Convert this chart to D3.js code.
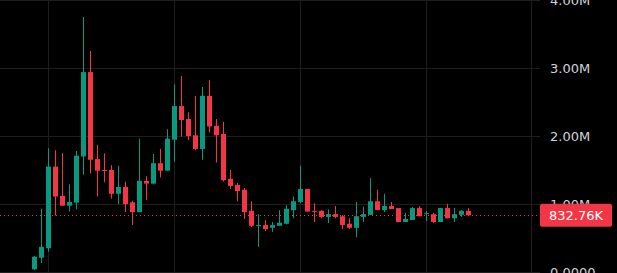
<!DOCTYPE html>
<html>
<head>
<meta charset="utf-8">
<script src="https://cdn.jsdelivr.net/npm/d3@7"></script>
<style>
  html, body { margin: 0; padding: 0; background: #000; }
  svg { display: block; }
</style>
</head>
<body>
<div id="chart"></div>
<script>
// Candle values, in millions
const opens  = [0.04, 0.21, 0.35, 1.55, 1.12, 0.975, 1.02, 1.70, 2.94, 1.66, 1.50, 1.50, 1.15, 1.25, 1.025, 0.88,
                1.34, 1.30, 1.60, 1.49, 1.945, 2.44, 2.25, 2.01, 1.81, 2.59, 2.15, 2.03, 1.37, 1.28, 1.21, 0.90,
                0.685, 0.69, 0.65, 0.68, 0.71, 0.91, 1.03, 1.22, 0.90, 0.90, 0.81, 0.85, 0.82, 0.71, 0.65, 0.81,
                0.84, 1.04, 0.91, 0.97, 0.94, 0.735, 0.765, 0.94, 0.86, 0.85, 0.735, 0.94, 0.79, 0.84, 0.90];
const highs  = [0.235, 0.93, 1.82, 1.79, 1.75, 1.29, 1.78, 3.75, 3.25, 1.87, 1.745, 1.57, 1.56, 1.33, 1.05, 1.96,
                1.41, 1.735, 1.81, 2.10, 2.76, 2.88, 2.35, 2.59, 2.72, 2.82, 2.25, 2.21, 1.50, 1.31, 1.235, 1.04,
                0.85, 0.76, 0.735, 0.91, 0.985, 1.11, 1.56, 1.22, 1.01, 0.91, 0.92, 0.97, 0.84, 0.79, 1.03, 0.96,
                1.38, 1.21, 1.15, 1.03, 0.94, 0.87, 0.955, 0.97, 0.90, 0.87, 0.94, 1.00, 0.94, 0.91, 0.94];
const lows   = [0.03, 0.13, 0.30, 0.83, 0.97, 0.89, 0.92, 1.43, 1.45, 1.11, 1.32, 1.08, 1.00, 0.88, 0.69, 0.88,
                1.06, 1.29, 1.39, 1.49, 1.62, 1.99, 1.94, 1.79, 1.65, 2.05, 1.61, 1.33, 1.22, 1.04, 0.78, 0.66,
                0.37, 0.60, 0.59, 0.68, 0.70, 0.79, 1.01, 0.88, 0.735, 0.79, 0.72, 0.79, 0.63, 0.63, 0.51, 0.735,
                0.84, 0.91, 0.88, 0.925, 0.73, 0.735, 0.765, 0.82, 0.75, 0.72, 0.735, 0.79, 0.735, 0.81, 0.83];
const closes = [0.225, 0.37, 1.55, 1.11, 0.975, 1.03, 1.71, 2.94, 1.65, 1.49, 1.49, 1.15, 1.25, 1.00, 0.88, 1.34,
                1.30, 1.60, 1.49, 1.96, 2.44, 2.235, 2.00, 1.81, 2.59, 2.14, 2.01, 1.35, 1.265, 1.19, 0.88, 0.68,
                0.69, 0.63, 0.69, 0.725, 0.93, 1.04, 1.22, 0.89, 0.89, 0.81, 0.85, 0.81, 0.69, 0.65, 0.82, 0.85,
                1.04, 0.91, 0.97, 0.925, 0.735, 0.78, 0.94, 0.82, 0.865, 0.735, 0.94, 0.79, 0.85, 0.90, 0.83276];

const priceTicks = [0, 1, 2, 3, 4];
const priceTickLabels = ["0.0000", "1.00M", "2.00M", "3.00M", "4.00M"];
const timeGridIdx = [2, 20, 38, 56, 71];
const lastPriceLabel = "832.76K";

const width = 617;
const height = 273;
const paneRight = 540;
const up = "#089981";
const down = "#f23645";

const svg = d3.select("#chart")
  .append("svg")
  .attr("width", width)
  .attr("height", height)
  .style("background", "#000");

const x = d3.scaleLinear().domain([0, 62]).range([34.3, 468.3]);
const y = d3.scaleLinear().domain([0, 4]).range([272, 0]);

// grid
svg.append("g")
  .selectAll("line")
  .data(priceTicks)
  .join("line")
  .attr("x1", 0).attr("x2", paneRight)
  .attr("y1", d => Math.round(y(d)) + 0.5)
  .attr("y2", d => Math.round(y(d)) + 0.5)
  .attr("stroke", "#1e1e1e");

svg.append("g")
  .selectAll("line")
  .data(timeGridIdx)
  .join("line")
  .attr("x1", d => Math.round(x(d)) + 0.5)
  .attr("x2", d => Math.round(x(d)) + 0.5)
  .attr("y1", 0).attr("y2", height)
  .attr("stroke", "#1e1e1e");

// candles
const candles = svg.append("g")
  .selectAll("g")
  .data(d3.range(opens.length))
  .join("g")
  .attr("fill", i => closes[i] >= opens[i] ? up : down)
  .attr("stroke", i => closes[i] >= opens[i] ? up : down);

candles.append("line")
  .attr("x1", i => Math.round(x(i)) + 0.5)
  .attr("x2", i => Math.round(x(i)) + 0.5)
  .attr("y1", i => y(highs[i]))
  .attr("y2", i => y(lows[i]))
  .attr("stroke-width", 1);

candles.append("rect")
  .attr("x", i => Math.round(x(i)) - 2)
  .attr("width", 5)
  .attr("y", i => y(Math.max(opens[i], closes[i])))
  .attr("height", i => Math.max(1, Math.abs(y(opens[i]) - y(closes[i]))))
  .attr("stroke", "none");

// last price line
const lastY = y(closes[closes.length - 1]);
svg.append("line")
  .attr("x1", 0).attr("x2", paneRight)
  .attr("y1", Math.round(lastY) + 0.5).attr("y2", Math.round(lastY) + 0.5)
  .attr("stroke", down)
  .attr("stroke-dasharray", "1,3");

// price axis labels
svg.append("g")
  .selectAll("text")
  .data(priceTicks)
  .join("text")
  .attr("x", 550)
  .attr("y", d => y(d))
  .attr("dy", "0.36em")
  .attr("fill", "#d1d4dc")
  .style("font", "13px 'DejaVu Sans', sans-serif")
  .text((d, i) => priceTickLabels[i]);

// last price tag
svg.append("rect")
  .attr("x", 540).attr("y", lastY - 11.5)
  .attr("width", 72).attr("height", 23)
  .attr("rx", 2)
  .attr("fill", down);

svg.append("text")
  .attr("x", 576).attr("y", lastY)
  .attr("dy", "0.36em")
  .attr("text-anchor", "middle")
  .attr("fill", "#fff")
  .style("font", "13px 'DejaVu Sans', sans-serif")
  .text(lastPriceLabel);
</script>
</body>
</html>
